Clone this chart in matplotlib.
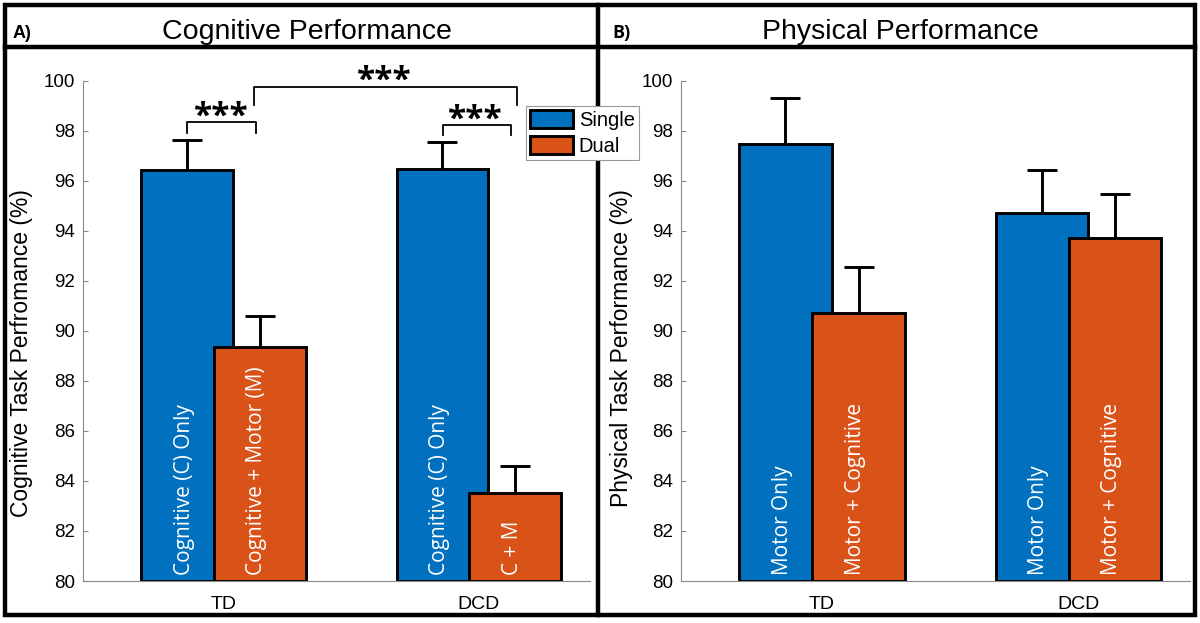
import matplotlib
matplotlib.use('Agg')
import matplotlib.pyplot as plt
from matplotlib.patches import Rectangle
from matplotlib.lines import Line2D
import numpy as np

# data
groups = ['TD', 'DCD']
cog_single = [96.43, 96.48]
cog_single_err = [1.20, 1.08]
cog_dual = [89.37, 83.50]
cog_dual_err = [1.23, 1.10]
phys_single = [97.45, 94.73]
phys_single_err = [1.86, 1.70]
phys_dual = [90.70, 93.72]
phys_dual_err = [1.87, 1.74]

cog_single_labels = ['Cognitive (C) Only', 'Cognitive (C) Only']
cog_dual_labels = ['Cognitive + Motor (M)', 'C + M']
phys_single_labels = ['Motor Only', 'Motor Only']
phys_dual_labels = ['Motor + Cognitive', 'Motor + Cognitive']

legend_labels = ['Single', 'Dual']
y_ticks = [80, 82, 84, 86, 88, 90, 92, 94, 96, 98, 100]

BLUE = '#0070BF'
ORANGE = '#D95319'
AXIS_GRAY = '#8a8a8a'
W, H = 1200, 623

plt.rcParams['font.family'] = ['Liberation Sans', 'DejaVu Sans']

fig = plt.figure(figsize=(12, 6.23), dpi=100)


def px_x(p):
    return p / W


def px_y(p):
    return 1 - p / H


x = np.arange(1, len(groups) + 1)
offset = 0.1425
width = 0.36


def draw_panel(ax, single, single_err, dual, dual_err, single_labels, dual_labels, ylabel):
    xs = x - offset
    xd = x + offset
    bs = ax.bar(xs, np.array(single) - 80, width, bottom=80, color=BLUE,
                edgecolor='black', linewidth=2.1, zorder=2)
    bd = ax.bar(xd, np.array(dual) - 80, width, bottom=80, color=ORANGE,
                edgecolor='black', linewidth=2.1, zorder=2.1)
    ax.errorbar(xs, single, yerr=single_err, fmt='none', ecolor='black',
                elinewidth=2.1, capsize=10.5, capthick=2.1, zorder=1)
    ax.errorbar(xd, dual, yerr=dual_err, fmt='none', ecolor='black',
                elinewidth=2.1, capsize=10.5, capthick=2.1, zorder=1)
    for xi, lab in zip(xs, single_labels):
        ax.text(xi - 0.012, 80.25, lab, rotation=90, ha='center', va='bottom',
                color='white', fontsize=15, family=['Open Sans', 'DejaVu Sans'], zorder=3)
    for xi, lab in zip(xd, dual_labels):
        ax.text(xi - 0.012, 80.25, lab, rotation=90, ha='center', va='bottom',
                color='white', fontsize=15, family=['Open Sans', 'DejaVu Sans'], zorder=3)

    ax.set_xlim(0.45, 2.435)
    ax.set_ylim(80, 100)
    ax.set_yticks(y_ticks)
    ax.set_xticks(x)
    ax.set_xticklabels(groups)
    ax.spines['top'].set_visible(False)
    ax.spines['right'].set_visible(False)
    for s in ['left', 'bottom']:
        ax.spines[s].set_color(AXIS_GRAY)
        ax.spines[s].set_linewidth(0.8)
    ax.tick_params(axis='y', direction='in', length=3.6, width=0.8,
                   color=AXIS_GRAY, labelsize=13.5, pad=6)
    ax.tick_params(axis='x', length=0, labelsize=14, pad=11)
    ax.set_ylabel(ylabel, fontsize=16.5)
    return bs, bd


# axes placed to match the reference pixel layout
ax_a = fig.add_axes([px_x(83), px_y(581), px_x(590) - px_x(83), px_y(80.7) - px_y(581)])
ax_b = fig.add_axes([px_x(681), px_y(581), px_x(1190) - px_x(681), px_y(80.7) - px_y(581)])

bs, bd = draw_panel(ax_a, cog_single, cog_single_err, cog_dual, cog_dual_err,
                    cog_single_labels, cog_dual_labels, 'Cognitive Task Perfromance (%)')
draw_panel(ax_b, phys_single, phys_single_err, phys_dual, phys_dual_err,
           phys_single_labels, phys_dual_labels, 'Physical Task Performance (%)')
ax_a.yaxis.set_label_coords(-0.098, 0.455)
ax_b.yaxis.set_label_coords(-0.094, 0.465)

# significance brackets (panel A)
brackets = [
    ([0.857, 0.857, 1.126, 1.126], [97.92, 98.36, 98.36, 97.92], 0.99, 98.22),
    ([1.118, 1.118, 2.148, 2.148], [99.04, 99.75, 99.75, 99.04], 1.63, 99.62),
    ([1.86, 1.86, 2.126, 2.126], [97.84, 98.24, 98.24, 97.84], 1.988, 98.10),
]
for bx, by, sx, sy in brackets:
    ax_a.plot(bx, by, color='black', lw=1.3, clip_on=False, zorder=4)
    ax_a.text(sx, sy, '***', ha='center', va='baseline', fontsize=24,
              fontweight='bold', family=['Open Sans', 'DejaVu Sans'], clip_on=False)

# legend over the panel divider
leg = fig.legend(handles=[bs, bd], labels=legend_labels, loc='upper left',
                 bbox_to_anchor=(px_x(526), px_y(105.7)), bbox_transform=fig.transFigure,
                 frameon=True, fancybox=False, edgecolor='#999999', framealpha=1,
                 borderaxespad=0, borderpad=0.22, handlelength=2.1, handleheight=1.0,
                 handletextpad=0.3, labelspacing=0.3, fontsize=14.5)
leg.get_frame().set_linewidth(0.8)

# outer frame, header separator, divider
fig.add_artist(Rectangle((px_x(5), px_y(615)), px_x(1195) - px_x(5), px_y(5) - px_y(615),
                         transform=fig.transFigure, fill=False, lw=3.2, ec='black', zorder=2))
fig.add_artist(Line2D([px_x(5), px_x(1195)], [px_y(47), px_y(47)],
                      transform=fig.transFigure, color='black', lw=3.2, zorder=2))
fig.add_artist(Line2D([px_x(598), px_x(598)], [px_y(5), px_y(615)],
                      transform=fig.transFigure, color='black', lw=3.2, zorder=2))

# header titles
fig.text(px_x(307), px_y(39), 'Cognitive Performance', ha='center', va='baseline', fontsize=20.5)
fig.text(px_x(900), px_y(39), 'Physical Performance', ha='center', va='baseline', fontsize=20.5)
fig.text(px_x(13), px_y(38), 'A)', ha='left', va='baseline', fontsize=13, fontweight='bold')
fig.text(px_x(612), px_y(38), 'B)', ha='left', va='baseline', fontsize=13, fontweight='bold',
         family=['Open Sans', 'DejaVu Sans'])

fig.savefig('out.png', dpi=100, facecolor='white')
